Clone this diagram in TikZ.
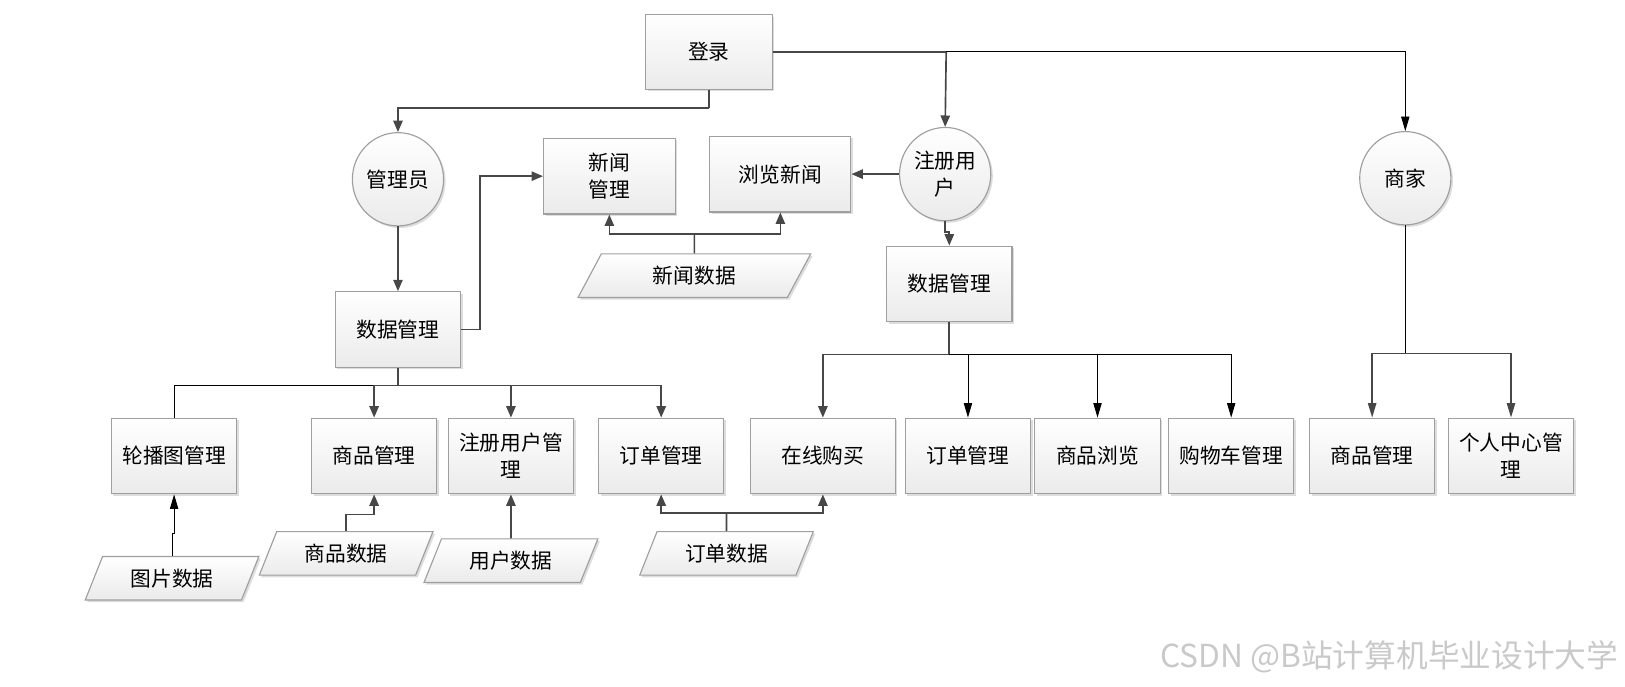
\documentclass[tikz,border=0pt]{standalone}
\usepackage{fontspec}
\newfontfamily\cjk{Noto Sans CJK SC}
\usetikzlibrary{arrows.meta,shapes.geometric,shadows}
\begin{document}
\begin{tikzpicture}[x=0.5pt,y=-0.5pt,
  shade/.style={top color=white, bottom color=gray!16, drop shadow={shadow xshift=1pt, shadow yshift=-1pt, fill=gray!45, opacity=0.6}},
  box/.style={rectangle, draw=gray!75, line width=0.55pt, shade, minimum width=60.5pt, minimum height=36.5pt, inner sep=1pt, align=center, font=\cjk\fontsize{10}{13}\selectfont},
  role/.style={ellipse, draw=gray!75, line width=0.55pt, shade, minimum width=44pt, minimum height=45pt, inner sep=0pt, align=center, font=\cjk\fontsize{10}{13}\selectfont},
  data/.style={trapezium, trapezium left angle=65, trapezium right angle=115, trapezium stretches=true, draw=gray!75, line width=0.55pt, shade, minimum width=84pt, minimum height=21pt, inner sep=1pt, font=\cjk\fontsize{10}{13}\selectfont},
  thk/.style={draw=black!72, line width=0.8pt},
  thn/.style={draw=black, line width=0.45pt},
  tip/.style={-{Triangle[length=5.5pt,width=4.5pt]}},
  tipb/.style={-{Triangle[length=7pt,width=4pt]}}
]
\useasboundingbox (0,0) rectangle (1568,662);
% nodes
\node[box, minimum width=61pt, minimum height=36pt] (login) at (684,50) {登录};
\node[role] (admin) at (384,173) {管理员};
\node[role] (reg) at (912,168) {注册用\\户};
\node[role] (shop) at (1356,172) {商家};
\node[box, minimum width=63.5pt] (newsm) at (588,170) {新闻\\管理};
\node[box, minimum width=68pt] (browse) at (753,168) {浏览新闻};
\node[data, minimum width=112.5pt] (newsd) at (670,266) {新闻数据};
\node[box] (dm1) at (384,318) {数据管理};
\node[box] (dm2) at (916,274) {数据管理};
\node[box] (lb) at (168,440) {轮播图管理};
\node[box] (sp1) at (361,440) {商品管理};
\node[box] (zc) at (493,440) {注册用户管\\理};
\node[box] (dd1) at (638,440) {订单管理};
\node[box, minimum width=70pt] (zx) at (794,440) {在线购买};
\node[box] (dd2) at (934,440) {订单管理};
\node[box] (ll) at (1059,440) {商品浏览};
\node[box] (gw) at (1188,440) {购物车管理};
\node[box] (sp2) at (1324,440) {商品管理};
\node[box] (gr) at (1458,440) {个人中心管\\理};
\node[data] (tp) at (166,558) {图片数据};
\node[data] (spd) at (334,534) {商品数据};
\node[data] (yh) at (493,541) {用户数据};
\node[data] (ddd) at (701,534) {订单数据};
\node[anchor=east, font=\cjk\fontsize{15.3}{17}\selectfont, text=gray!42, inner sep=0pt] (wm) at (1562,634) {CSDN @B站计算机毕业设计大学};
% junctions
\coordinate (j1) at (684,104);
\coordinate (j2) at (913,50);
\coordinate (j3) at (670,226);
\coordinate (j4) at (384,372);
\coordinate (j5) at (701,495);
\coordinate (j6) at (916,342);
\coordinate (j7) at (1356,341);
% connectors
\draw[thk] (login.south) -- (j1);
\draw[thk,tip] (j1) -| (admin.north);
\draw[thk] (login.east) -- (j2);
\draw[thk,tip] (j2) -- (reg.north);
\draw[thn,tipb] (j2) -| (shop.north);
\draw[thk,tip] (reg.west) -- (browse.east);
\draw[thk,tip] (reg.south) -- ++(0,10) -| (dm2.north);
\draw[thk,tip] (admin.south) -- (dm1.north);
\draw[thk,tip] (dm1.east) -- ++(18,0) |- (newsm.west);
\draw[thk] (newsd.north) -- (j3);
\draw[thk,tip] (j3) -| (newsm.south);
\draw[thk,tip] (j3) -| (browse.south);
\draw[thk] (dm1.south) -- (j4);
\draw[thn] (j4) -| (lb.north);
\draw[thk,tip] (j4) -| (sp1.north);
\draw[thk,tip] (j4) -| (zc.north);
\draw[thk,tip] (j4) -| (dd1.north);
\draw[thn,tipb] (tp.north) -- ++(0,-22) -| (lb.south);
\draw[thk,tip] (spd.north) -- ++(0,-16) -| (sp1.south);
\draw[thk,tip] (yh.north) -- (zc.south);
\draw[thk] (ddd.north) -- (j5);
\draw[thk,tip] (j5) -| (dd1.south);
\draw[thk,tip] (j5) -| (zx.south);
\draw[thk] (dm2.south) -- (j6);
\draw[thk,tip] (j6) -| (zx.north);
\draw[thn,tipb] (j6) -| (dd2.north);
\draw[thn,tipb] (j6) -| (ll.north);
\draw[thn,tipb] (j6) -| (gw.north);
\draw[thn] (shop.south) -- (j7);
\draw[thk,tipb] (j7) -| (sp2.north);
\draw[thk,tipb] (j7) -| (gr.north);
\end{tikzpicture}
\end{document}
